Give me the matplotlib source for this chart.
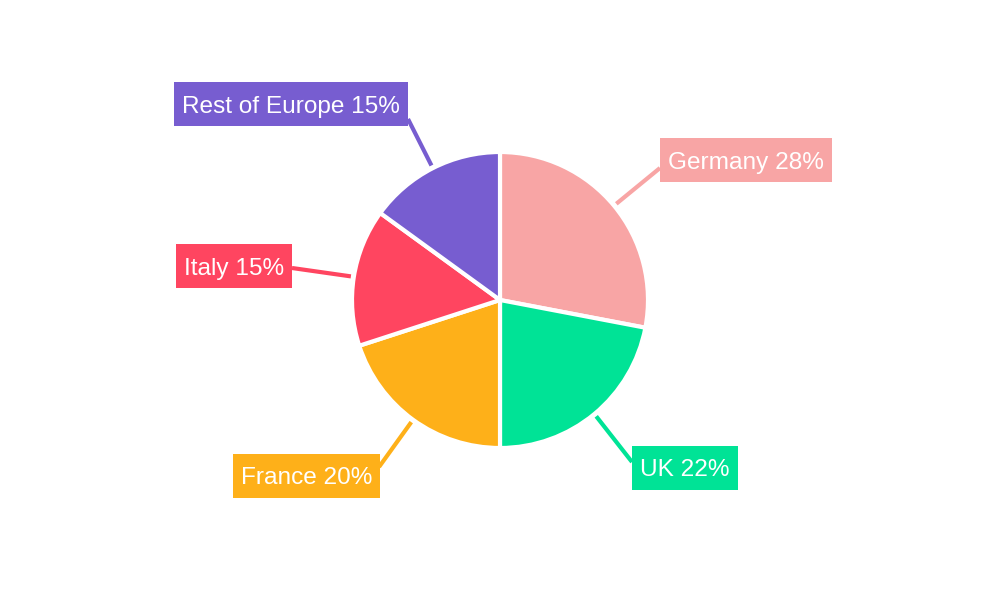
import numpy as np
import matplotlib.pyplot as plt
from matplotlib.patches import Rectangle

# Dados
paises = ['Germany', 'UK', 'France', 'Italy', 'Rest of Europe']
valores = [28, 22, 20, 15, 15]
cores = ['#F8A5A5', '#00E396', '#FEB019', '#FF4560', '#775DD0']

# Posição das caixas (pixels da figura: x da borda, y do centro) e lado
caixa_x = [660, 632, 380, 292, 408]
caixa_y = [160, 468, 476, 266, 104]
lado = ['left', 'left', 'right', 'right', 'right']
fim_linha = [(660, 168), (632, 462), (379, 467), (292, 268), (408, 119)]

R_PX = 148.0
CX, CY = 500, 300
PAD = 8      # folga horizontal da caixa (px)
ALT = 44     # altura da caixa (px)
CAP = 17     # altura das maiúsculas (px)


def px(x, y):
    return (x - CX) / R_PX, (CY - y) / R_PX


plt.rcParams['font.family'] = ['Liberation Sans', 'DejaVu Sans']
fig = plt.figure(figsize=(10, 6), dpi=100)
ax = fig.add_axes([0, 0, 1, 1])

wedges, _ = ax.pie(valores, colors=cores, startangle=90, counterclock=False,
                   radius=1, wedgeprops=dict(edgecolor='white', linewidth=3))

ax.set_xlim(-CX / R_PX, CX / R_PX)
ax.set_ylim(-CY / R_PX, CY / R_PX)
ax.set_aspect('equal')
ax.axis('off')

textos = []
for i, w in enumerate(wedges):
    ang = np.deg2rad((w.theta1 + w.theta2) / 2)
    x0, y0 = 1.02 * np.cos(ang), 1.02 * np.sin(ang)
    x1, y1 = px(*fim_linha[i])
    ax.plot([x0, x1], [y0, y1], color=cores[i], lw=3, solid_capstyle='butt', zorder=1)
    tx = caixa_x[i] + PAD if lado[i] == 'left' else caixa_x[i] - PAD
    tx, ty = px(tx, caixa_y[i] + CAP / 2)
    t = ax.text(tx, ty, f'{paises[i]} {valores[i]}%', ha=lado[i], va='baseline',
                fontsize=17.6, color='white', zorder=4)
    textos.append(t)

# caixas coloridas atrás dos textos
fig.canvas.draw()
ren = fig.canvas.get_renderer()
for i, t in enumerate(textos):
    bb = t.get_window_extent(ren)
    xa = (bb.x0 - PAD - CX) / R_PX
    xb = (bb.x1 + PAD - CX) / R_PX
    _, yc = px(0, caixa_y[i])
    h = ALT / R_PX
    ax.add_patch(Rectangle((xa, yc - h / 2), xb - xa, h, fc=cores[i], ec='none', zorder=3))

plt.savefig('out.png', dpi=100)
